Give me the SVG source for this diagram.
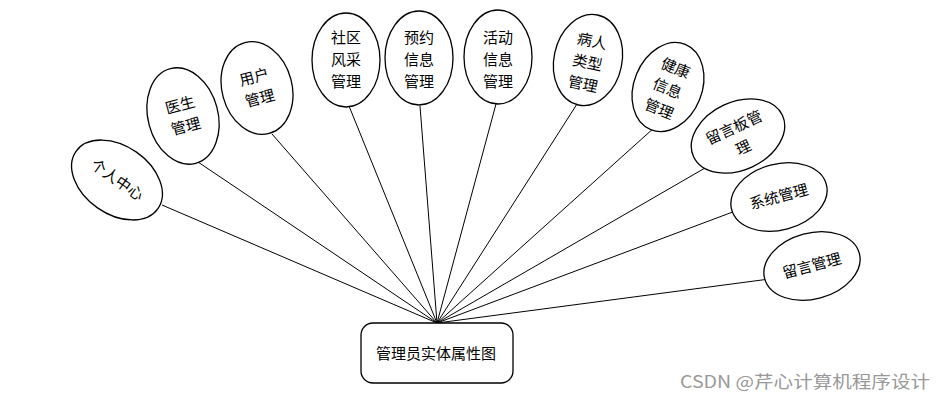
<svg xmlns="http://www.w3.org/2000/svg" width="944" height="400" viewBox="0 0 944 400">
<style>
.e{fill:#fff;stroke:#000;stroke-width:1.3}
.t{font-family:"Noto Sans CJK SC","Noto Sans",sans-serif;font-size:15px;fill:#000;text-anchor:middle}
.c line{stroke:#000;stroke-width:1}
</style>
<rect width="944" height="400" fill="#fff"/>
<g class="c">
<line x1="437" y1="323" x2="162" y2="205"/>
<line x1="437" y1="323" x2="198" y2="162"/>
<line x1="437" y1="323" x2="272" y2="134"/>
<line x1="437" y1="323" x2="349" y2="106"/>
<line x1="437" y1="323" x2="420" y2="106"/>
<line x1="437" y1="323" x2="496" y2="104"/>
<line x1="437" y1="323" x2="577" y2="104"/>
<line x1="437" y1="323" x2="655" y2="127"/>
<line x1="437" y1="323" x2="705" y2="168"/>
<line x1="437" y1="323" x2="738" y2="210"/>
<line x1="437" y1="323" x2="777" y2="278"/>
</g>
<g id="center"><rect x="361" y="323" width="152" height="60" rx="12" class="e"/><text class="t" x="436" y="359">管理员实体属性图</text></g>
<g id="n1"><ellipse class="e" cx="117" cy="180" rx="50" ry="34" transform="rotate(35 117 180)"/><text class="t" x="117" y="185" transform="rotate(35 117 180)">个人中心</text></g>
<g id="n2"><ellipse class="e" cx="183" cy="116" rx="35" ry="49" transform="rotate(-15 183 116)"/><text class="t" transform="rotate(-15 183 116)"><tspan x="183" y="110">医生</tspan><tspan x="183" y="132">管理</tspan></text></g>
<g id="n3"><ellipse class="e" cx="257" cy="88" rx="35" ry="47" transform="rotate(-15 257 88)"/><text class="t" transform="rotate(-15 257 88)"><tspan x="257" y="82">用户</tspan><tspan x="257" y="104">管理</tspan></text></g>
<g id="n4"><ellipse class="e" cx="346" cy="60" rx="34" ry="47"/><text class="t"><tspan x="346" y="43">社区</tspan><tspan x="346" y="65">风采</tspan><tspan x="346" y="87">管理</tspan></text></g>
<g id="n5"><ellipse class="e" cx="419" cy="58" rx="34" ry="47"/><text class="t"><tspan x="419" y="43">预约</tspan><tspan x="419" y="65">信息</tspan><tspan x="419" y="87">管理</tspan></text></g>
<g id="n6"><ellipse class="e" cx="498" cy="57" rx="34" ry="47"/><text class="t"><tspan x="498" y="43">活动</tspan><tspan x="498" y="65">信息</tspan><tspan x="498" y="87">管理</tspan></text></g>
<g id="n7"><ellipse class="e" cx="588" cy="60" rx="34" ry="46" transform="rotate(12 588 60)"/><text class="t" transform="rotate(12 588 60)"><tspan x="588" y="46">病人</tspan><tspan x="588" y="68">类型</tspan><tspan x="588" y="90">管理</tspan></text></g>
<g id="n8"><ellipse class="e" cx="668" cy="87" rx="34" ry="46" transform="rotate(22 668 87)"/><text class="t" transform="rotate(22 668 87)"><tspan x="668" y="72">健康</tspan><tspan x="668" y="94">信息</tspan><tspan x="668" y="116">管理</tspan></text></g>
<g id="n9"><ellipse class="e" cx="738" cy="136" rx="49" ry="34" transform="rotate(-25 738 136)"/><text class="t" transform="rotate(-25 738 136)"><tspan x="738" y="132">留言板管</tspan><tspan x="738" y="154">理</tspan></text></g>
<g id="n10"><ellipse class="e" cx="779" cy="197" rx="49" ry="33" transform="rotate(-15 779 197)"/><text class="t" x="779" y="202" transform="rotate(-15 779 197)">系统管理</text></g>
<g id="n11"><ellipse class="e" cx="812" cy="266" rx="49" ry="33" transform="rotate(-15 812 266)"/><text class="t" x="812" y="271" transform="rotate(-15 812 266)">留言管理</text></g>
<text x="680" y="388" textLength="250" lengthAdjust="spacingAndGlyphs" style="font-family:'Noto Sans CJK SC','Noto Sans',sans-serif;font-size:17px;fill:#999">CSDN @芹心计算机程序设计</text>
</svg>
